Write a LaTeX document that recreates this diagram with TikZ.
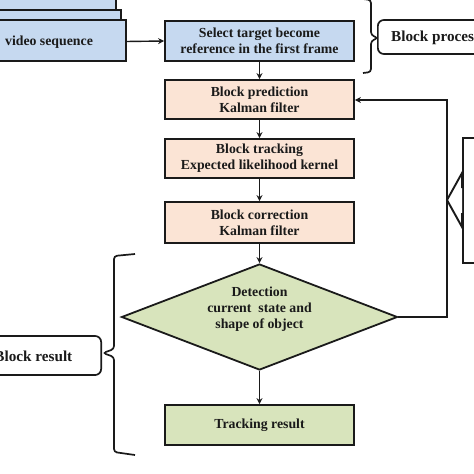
\documentclass[tikz,border=0pt]{standalone}
\usepackage{fontspec}
\setmainfont{Liberation Serif}
\usetikzlibrary{arrows.meta,shapes.geometric}
\definecolor{blueF}{HTML}{C6D9F0}
\definecolor{salmonF}{HTML}{FBE4D5}
\definecolor{greenF}{HTML}{D8E4BC}
\definecolor{lineC}{HTML}{1A1A1A}
\begin{document}
\begin{tikzpicture}[x=1pt,y=-1pt,
  txt/.style={font=\fontsize{13.8}{16}\selectfont\bfseries, text=lineC, align=center},
  bigtxt/.style={font=\fontsize{15.2}{18}\selectfont\bfseries, text=lineC},
  box/.style={draw=lineC, line width=1.8pt, minimum width=189pt, inner sep=0pt, txt},
  bluebox/.style={box, fill=blueF},
  salbox/.style={box, fill=salmonF},
  grnbox/.style={box, fill=greenF},
  arr/.style={draw=lineC, line width=1.4pt, -{Stealth[length=6pt,width=6pt,inset=2pt]}},
  brace/.style={draw=lineC, line width=1.7pt, rounded corners=3pt},
  rbox/.style={draw=lineC, line width=1.7pt, rounded corners=6pt}
]
\useasboundingbox (0,0) rectangle (474,474);
\clip (0,0) rectangle (474,474);
\fill[white] (0,0) rectangle (474,474);

% video sequence stack
\draw[draw=lineC, line width=1.8pt, fill=blueF] (-20,-30) rectangle (116,10);
\draw[draw=lineC, line width=1.8pt, fill=blueF] (-20,10) rectangle (121,40);
\draw[draw=lineC, line width=1.8pt, fill=blueF] (-20,20) rectangle (126,61);
\coordinate (vsR) at (126,41.5);
\node[txt] (vs) at (49,42) {video sequence};

% main boxes
\node[bluebox, minimum height=40pt] (sel) at (259.5,41) {Select target become\\reference in the first frame};
\node[salbox, minimum height=39pt] (pred) at (259.5,99.5) {Block prediction\\Kalman filter};
\node[salbox, minimum height=39pt] (trk) at (259.5,158.5) {Block tracking\\Expected likelihood kernel};
\node[salbox, minimum height=41pt] (cor) at (259.5,222.5) {Block correction\\Kalman filter};
\node[draw=lineC, line width=1.8pt, fill=greenF, diamond, minimum width=276pt, minimum height=106pt, inner sep=0pt] (det) at (259.5,317) {};
\node[txt] (dettext) at (259.5,309) {Detection\\current~~state and\\shape of object};
\node[grnbox, minimum height=40pt] (res) at (259.5,425) {Tracking result};

% arrows
\draw[arr] (vsR) -- (sel.west);
\draw[arr] (sel.south) -- (pred.north);
\draw[arr] (pred.south) -- (trk.north);
\draw[arr] (trk.south) -- (cor.north);
\draw[arr] (cor.south) -- (det.north);
\draw[arr] (det.south) -- (res.north);
\coordinate (fb1) at (447,317);
\coordinate (fb2) at (447,100);
\draw[arr] (det.east) -- (fb1) -- (fb2) -- (pred.east |- fb2);

% Block process brace and box
\draw[brace] (363,-1) -- (371,0) -- (371,35) -- (378,38) -- (371,41) -- (371,72) -- (363,73);
\node[rbox, minimum width=120pt, minimum height=34pt, anchor=west, inner sep=0pt] (bp) at (377,37) {};
\node[bigtxt, anchor=west, inner sep=0pt] (bptext) at (391,38) {Block process};

% right box with brace
\draw[draw=lineC, line width=1.4pt] (490,138) -- (463,138) -- (463,263) -- (490,263);
\draw[draw=lineC, line width=1.9pt, fill=white] (462,188) -- (462,173) -- (447,200) -- (462,227) -- (462,213);

% Block result brace and box
\draw[brace] (135,254) -- (114,256) -- (114,349) -- (103,353) -- (114,357) -- (114,452) -- (135,455);
\node[rbox, minimum width=150pt, minimum height=39pt, anchor=east, inner sep=0pt] (br) at (102,355.5) {};
\node[bigtxt, anchor=east, inner sep=0pt] (brtext) at (72.5,356) {Block result};
\end{tikzpicture}
\end{document}
